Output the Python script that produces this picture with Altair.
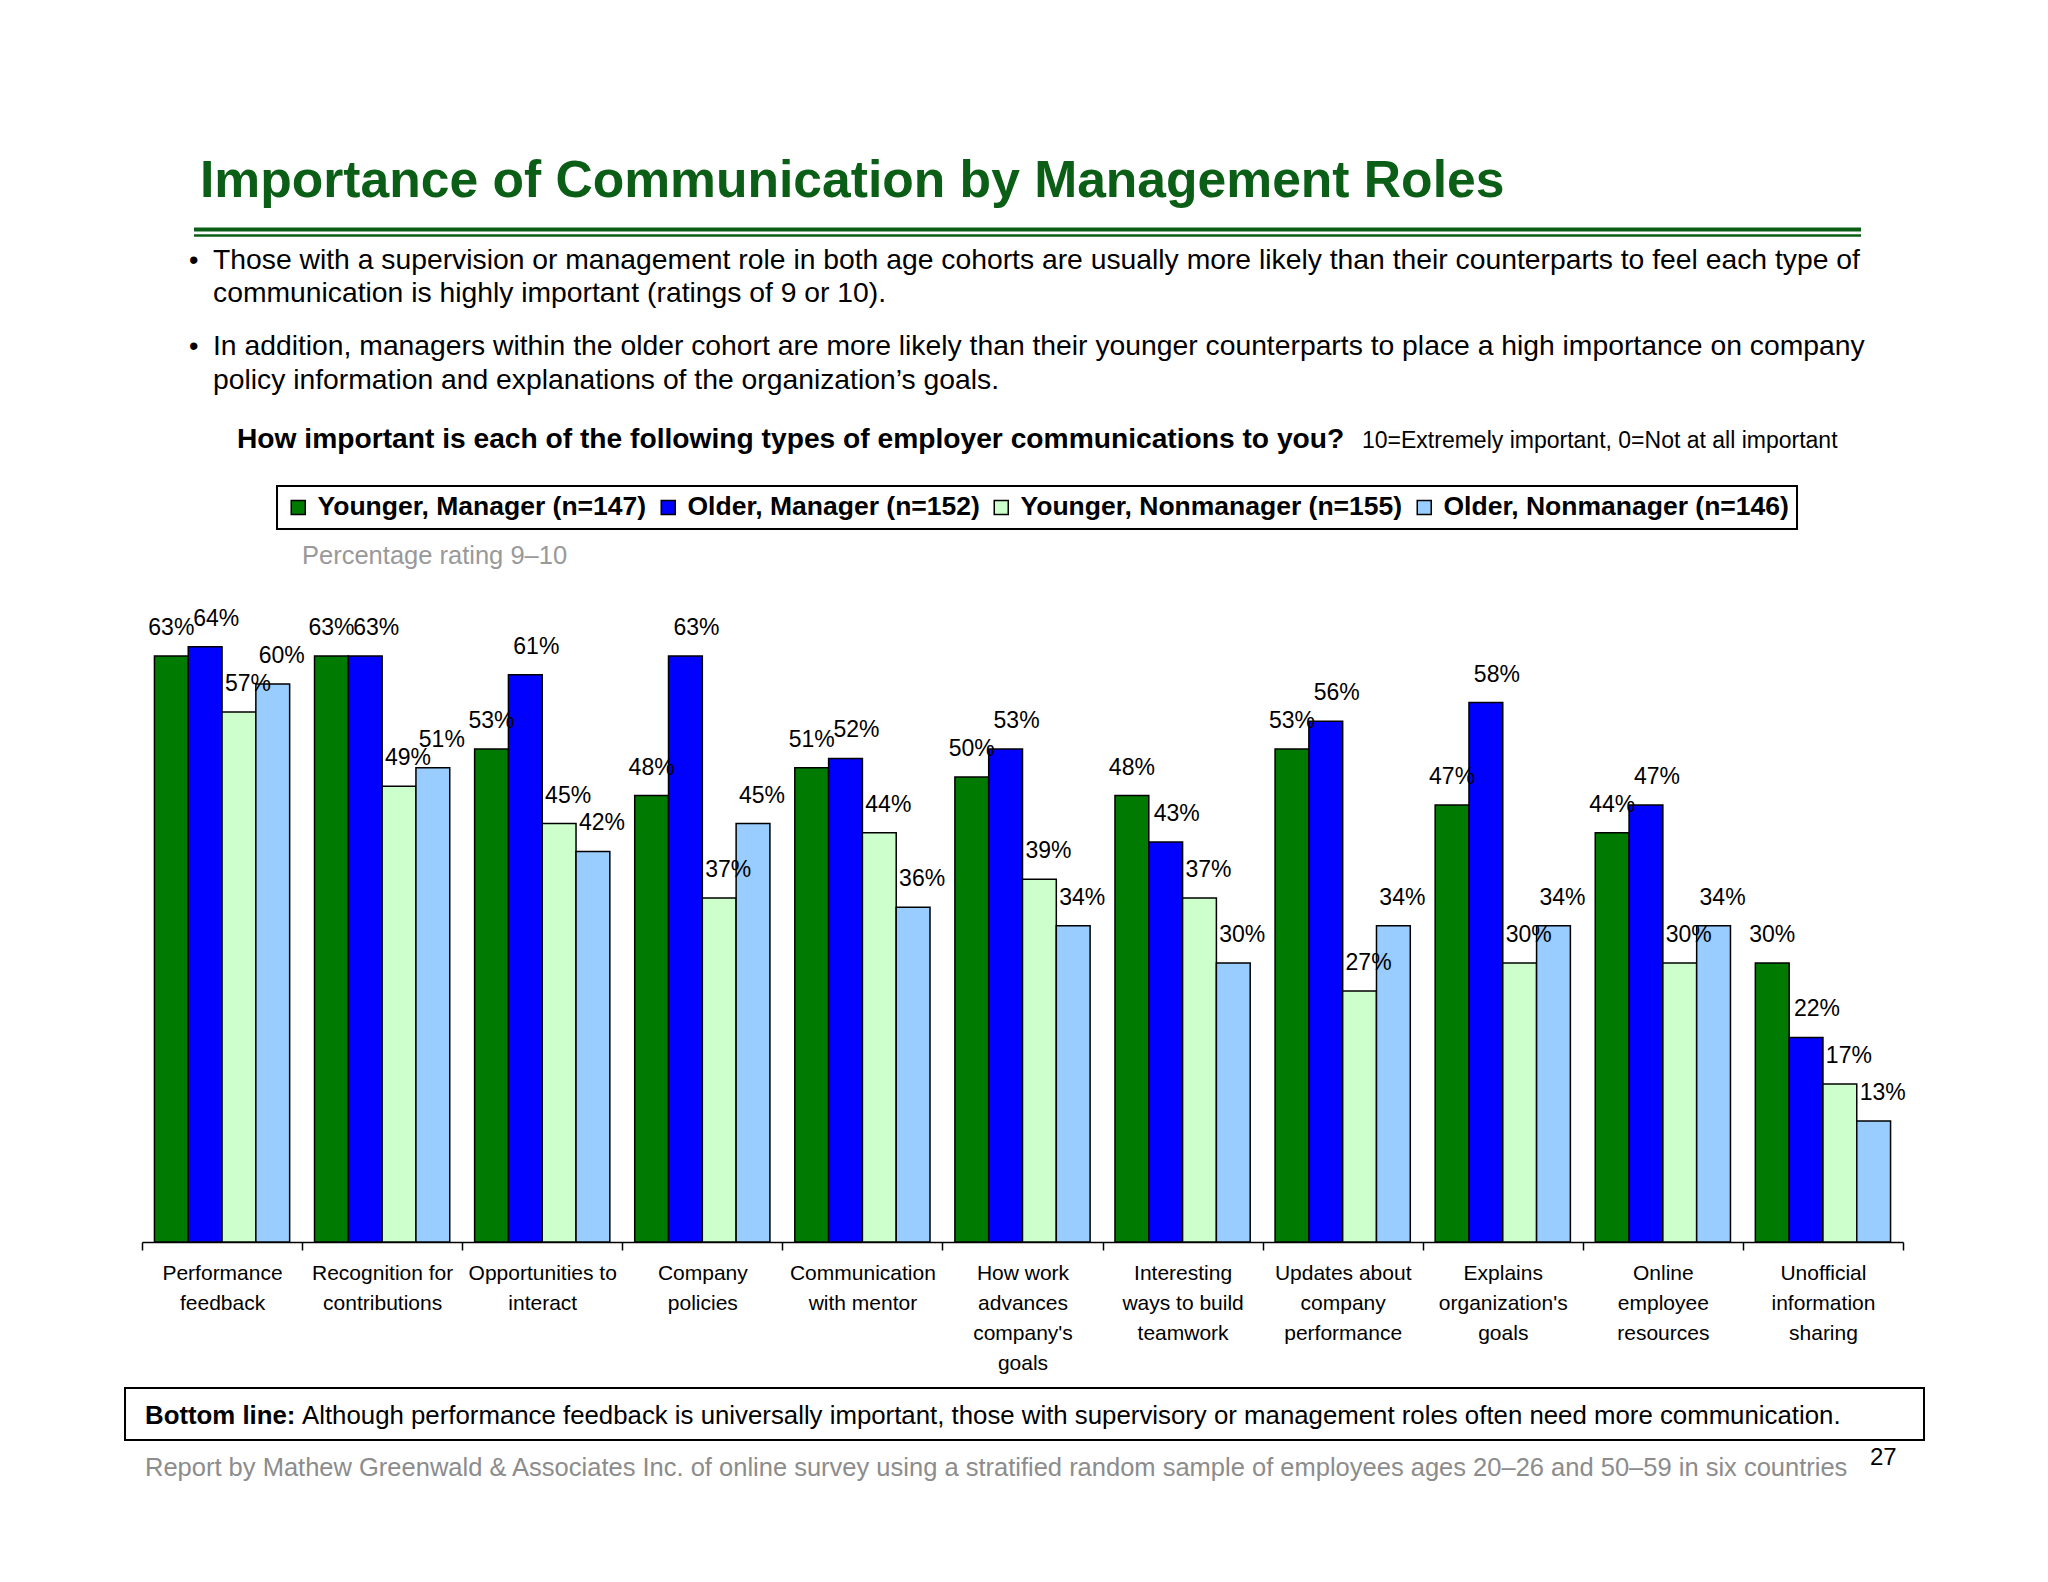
import altair as alt
import pandas as pd

FONT = "Liberation Sans"

categories = [
    "Performance|feedback",
    "Recognition for|contributions",
    "Opportunities to|interact",
    "Company|policies",
    "Communication|with mentor",
    "How work|advances|company's|goals",
    "Interesting|ways to build|teamwork",
    "Updates about|company|performance",
    "Explains|organization's|goals",
    "Online|employee|resources",
    "Unofficial|information|sharing",
]
series = [
    "Younger, Manager (n=147)",
    "Older, Manager (n=152)",
    "Younger, Nonmanager (n=155)",
    "Older, Nonmanager (n=146)",
]
younger_manager = [63, 63, 53, 48, 51, 50, 48, 53, 47, 44, 30]
older_manager = [64, 63, 61, 63, 52, 53, 43, 56, 58, 47, 22]
younger_nonmanager = [57, 49, 45, 37, 44, 39, 37, 27, 30, 30, 17]
older_nonmanager = [60, 51, 42, 45, 36, 34, 30, 34, 34, 34, 13]
colors = ["#007a00", "#0000ff", "#ccffcc", "#99ccff"]

title_text = "Importance of Communication by Management Roles"
bullet_lines = [
    "Those with a supervision or management role in both age cohorts are usually more likely than their counterparts to feel each type of",
    "communication is highly important (ratings of 9 or 10).",
    "In addition, managers within the older cohort are more likely than their younger counterparts to place a high importance on company",
    "policy information and explanations of the organization\u2019s goals.",
]
question_text = "How important is each of the following types of employer communications to you?"
scale_text = "10=Extremely important, 0=Not at all important"
note_text = "Percentage rating 9\u201310"
bottom_bold = "Bottom line:"
bottom_text = "Although performance feedback is universally important, those with supervisory or management roles often need more communication."
footer_text = "Report by Mathew Greenwald & Associates Inc. of online survey using a stratified random sample of employees ages 20\u201326 and 50\u201359 in six countries"
page_text = "27"

rows = []
for vals, s in zip([younger_manager, older_manager, younger_nonmanager, older_nonmanager], series):
    for c, v in zip(categories, vals):
        rows.append({"category": c, "series": s, "value": v, "label": f"{v}%"})
df = pd.DataFrame(rows)

# layout (page pixel coordinates of the plot area origin)
OX, OY = 142, 591
W, H = 1761, 651

x_enc = alt.X(
    "category:N",
    sort=categories,
    scale=alt.Scale(paddingInner=0, paddingOuter=0),
    axis=alt.Axis(
        title=None,
        labelExpr="split(datum.label, '|')",
        tickBand="extent",
        labelAngle=0,
        labelFont=FONT,
        labelFontSize=21,
        labelColor="black",
        labelLineHeight=30,
        labelBaseline="top",
        labelPadding=12,
        labelLimit=300,
        labelOverlap=False,
        domainColor="black",
        domainWidth=1.5,
        tickColor="black",
        tickWidth=1.5,
        tickSize=8,
    ),
)
xoff_enc = alt.XOffset("series:N", sort=series, scale=alt.Scale(domain=series, paddingInner=0, paddingOuter=0.368))
y_enc = alt.Y("value:Q", scale=alt.Scale(domain=[0, 70]), axis=None)

bars = alt.Chart(df).mark_bar(stroke="black", strokeWidth=1.5).encode(
    x=x_enc,
    xOffset=xoff_enc,
    y=y_enc,
    color=alt.Color(
        "series:N",
        sort=series,
        scale=alt.Scale(domain=series, range=colors),
        legend=alt.Legend(
            title=None,
            orient="none",
            legendX=277 - OX,
            legendY=486 - OY,
            direction="horizontal",
            columns=4,
            symbolType="square",
            symbolSize=196,
            symbolStrokeColor="black",
            symbolStrokeWidth=1.5,
            labelFont=FONT,
            labelFontSize=26.5,
            labelFontWeight="bold",
            labelColor="black",
            labelOffset=6,
            labelLimit=500,
            columnPadding=8,
            padding=8,
            strokeColor="black",
        ),
    ),
)

# value labels, one layer per series (small horizontal nudges like the original)
label_dx = [0, 11, 9, 9]
label_layers = [
    alt.Chart(df)
    .transform_filter(alt.datum.series == s)
    .mark_text(dx=d, dy=-21, baseline="alphabetic", align="center", font=FONT, fontSize=23, color="black")
    .encode(x=x_enc, xOffset=xoff_enc, y=y_enc, text=alt.Text("label:N"))
    for s, d in zip(series, label_dx)
]


def text_at(s, px, py, size, weight="normal", color="black", align="left"):
    return alt.Chart(pd.DataFrame({"t": [s]})).mark_text(
        align=align, baseline="alphabetic", font=FONT, fontSize=size, fontWeight=weight, color=color
    ).encode(x=alt.value(px - OX), y=alt.value(py - OY), text=alt.Text("t:N"))


def hline(px1, px2, py, width, color):
    return alt.Chart(pd.DataFrame({"k": [0]})).mark_rule(color=color, strokeWidth=width).encode(
        x=alt.value(px1 - OX), x2=alt.value(px2 - OX), y=alt.value(py - OY)
    )


green = "#0b5e16"
layers = [
    bars,
    *label_layers,
    text_at(title_text, 200, 197, 51.6, "bold", green),
    hline(194, 1861, 229.5, 4, green),
    hline(194, 1861, 235.5, 2.5, green),
    text_at("\u2022", 189, 269, 27),
    text_at(bullet_lines[0], 213, 269, 28.3),
    text_at(bullet_lines[1], 213, 302, 28.3),
    text_at("\u2022", 189, 355, 27),
    text_at(bullet_lines[2], 213, 355, 28.3),
    text_at(bullet_lines[3], 213, 389, 28.3),
    text_at(question_text, 237, 448, 28.2, "bold"),
    text_at(scale_text, 1362, 448, 23),
    text_at(note_text, 302, 564, 25.5, "normal", "#999999"),
    alt.Chart(pd.DataFrame({"k": [0]})).mark_rect(fill="transparent", stroke="black", strokeWidth=2).encode(
        x=alt.value(125 - OX), x2=alt.value(1924 - OX), y=alt.value(1388 - OY), y2=alt.value(1440 - OY)
    ),
    text_at(bottom_bold, 145, 1424, 25.8, "bold"),
    text_at(bottom_text, 302, 1424, 25.8),
    text_at(footer_text, 145, 1476, 25.5, "normal", "#8c8c8c"),
    text_at(page_text, 1870, 1465, 24),
]

chart = (
    alt.layer(*layers)
    .properties(
        width=W,
        height=H,
        autosize=alt.AutoSizeParams(type="none"),
        padding={"left": OX - 8, "top": OY - 8, "right": 130, "bottom": 320},
        background="white",
    )
    .configure_view(stroke=None)
    .configure_legend(strokeWidth=2)
)

chart.save("out.html", embed_options={"renderer": "svg", "actions": False})
